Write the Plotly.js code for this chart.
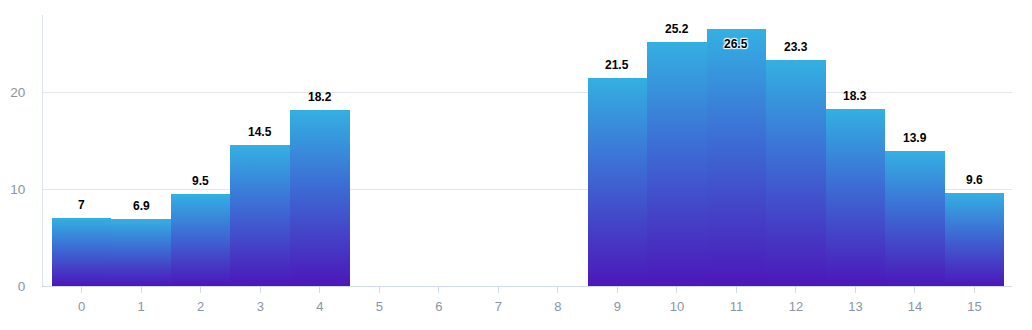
<!DOCTYPE html>
<html>
<head>
<meta charset="utf-8">
<script src="https://cdn.plot.ly/plotly-3.0.1.min.js"></script>
<style>
html,body{margin:0;padding:0;background:#fff;}
#chart{width:1032px;height:330px;}
</style>
</head>
<body>
<div id="chart"></div>
<script>
const categories = [0,1,2,3,4,5,6,7,8,9,10,11,12,13,14,15];
const values = [7,6.9,9.5,14.5,18.2,0,0,0,0,21.5,25.2,26.5,23.3,18.3,13.9,9.6];
const labelInside = [false,false,false,false,false,false,false,false,false,false,false,true,false,false,false,false];

const annotations = [];
values.forEach((v,i)=>{
  if(v===0) return;
  const inside = labelInside[i];
  annotations.push({
    x: categories[i], y: v, xref:'x', yref:'y',
    text: String(v), showarrow:false,
    yanchor:'middle', yshift: inside ? -14.5 : 13,
    font:{family:'Liberation Sans, Arial, sans-serif', size:12, color:'#000', weight:'bold',
      shadow: inside ? '1px 1px 1px #fff, -1px -1px 1px #fff, 1px -1px 1px #fff, -1px 1px 1px #fff' : 'none'}
  });
});

const trace = {
  type:'bar', x:categories, y:values,
  marker:{color:'#3a7ad6', line:{width:0}},
  hoverinfo:'none'
};

const layout = {
  width:1032, height:330,
  margin:{l:43, r:20, t:15, b:44},
  paper_bgcolor:'#fff', plot_bgcolor:'#fff',
  bargap:0,
  showlegend:false,
  font:{family:'Liberation Sans, Arial, sans-serif', size:13, color:'#8a94a6'},
  xaxis:{
    type:'linear', range:[-0.65,15.63], tickmode:'array', tickvals:categories, ticktext:categories.map(String),
    showgrid:false, zeroline:false, showline:true, linecolor:'#d3d9ee', linewidth:1,
    ticks:'outside', ticklen:6, tickcolor:'#d3d9ee', ticklabelstandoff:2,
    tickfont:{size:13, color:'#8a94a6'}
  },
  yaxis:{
    range:[0,27.95], tickvals:[0,10,20], showgrid:true, gridcolor:'#e3e6ee', gridwidth:1,
    zeroline:false, showline:true, linecolor:'#dfe3f0', linewidth:1, ticks:'', ticklabelstandoff:14,
    tickfont:{size:13.5, color:'#8a94a6'}
  },
  annotations: annotations
};

Plotly.newPlot('chart',[trace],layout,{displayModeBar:false, staticPlot:true}).then(gd=>{
  const svg = gd.querySelector('svg.main-svg');
  const ns = 'http://www.w3.org/2000/svg';
  let defs = svg.querySelector('defs');
  if(!defs){ defs = document.createElementNS(ns,'defs'); svg.insertBefore(defs, svg.firstChild); }
  const lg = document.createElementNS(ns,'linearGradient');
  lg.setAttribute('id','barGrad');
  lg.setAttribute('x1','0'); lg.setAttribute('y1','0');
  lg.setAttribute('x2','0'); lg.setAttribute('y2','1');
  [['0','#34b0e2'],['0.45','#3d6ad4'],['1','#4c17b9']].forEach(([o,c])=>{
    const s = document.createElementNS(ns,'stop');
    s.setAttribute('offset',o); s.setAttribute('stop-color',c);
    lg.appendChild(s);
  });
  defs.appendChild(lg);
  gd.querySelectorAll('.bars .point path').forEach(p=>{
    p.style.fill = 'url(#barGrad)';
    p.style.fillOpacity = '1';
  });
});
</script>
</body>
</html>
